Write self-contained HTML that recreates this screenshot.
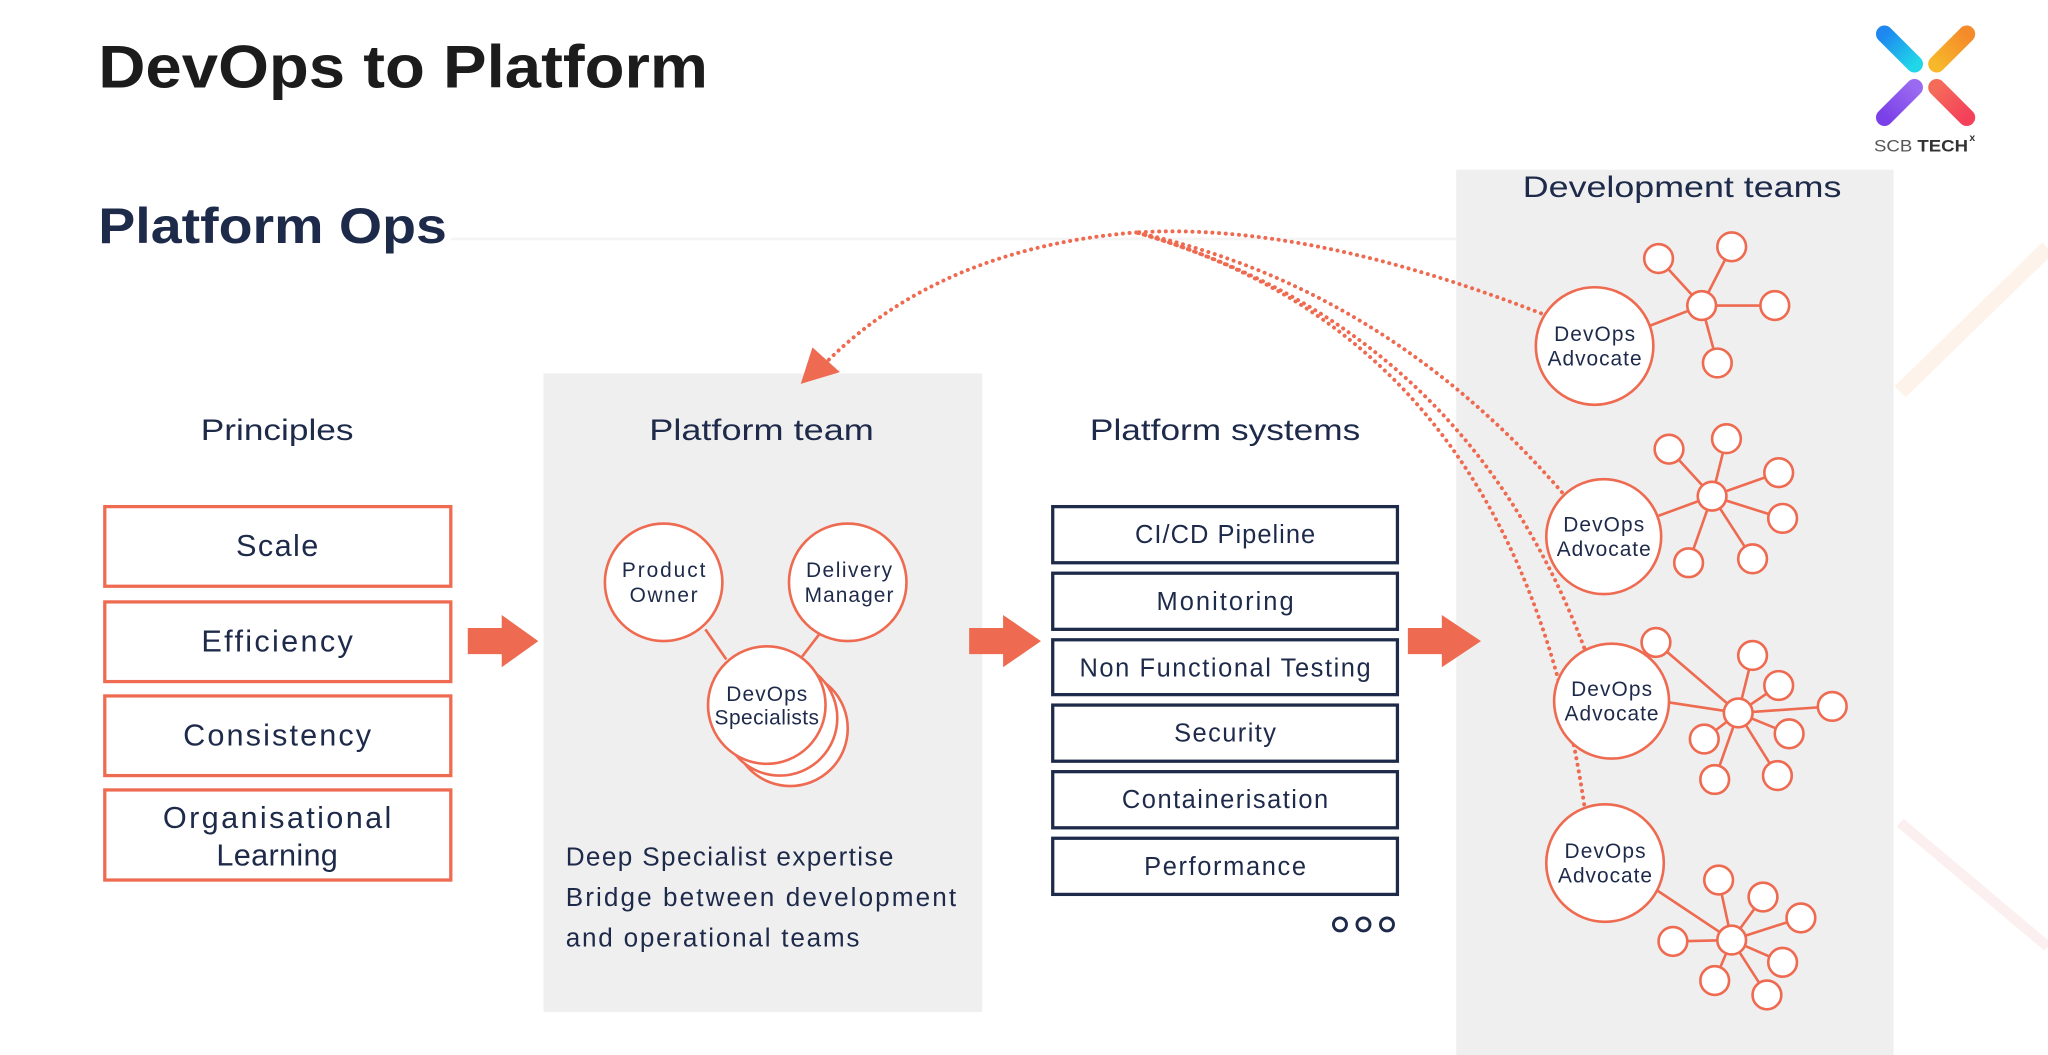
<!DOCTYPE html>
<html><head><meta charset="utf-8"><style>
html,body{margin:0;padding:0;background:#fff;width:2048px;height:1055px;overflow:hidden}
svg{display:block}
text{font-family:"Liberation Sans",sans-serif}
</style></head><body>
<svg width="2048" height="1055" viewBox="0 0 1568 808" xmlns="http://www.w3.org/2000/svg">
<defs>
<linearGradient id="g1" x1="0" y1="0" x2="1" y2="1"><stop offset="0" stop-color="#1e88f0"/><stop offset="1" stop-color="#20d6e8"/></linearGradient>
<linearGradient id="g2" x1="1" y1="0" x2="0" y2="1"><stop offset="0" stop-color="#f58a2a"/><stop offset="1" stop-color="#f6b72a"/></linearGradient>
<linearGradient id="g3" x1="1" y1="0" x2="0" y2="1"><stop offset="0" stop-color="#9a6af0"/><stop offset="1" stop-color="#7b40e8"/></linearGradient>
<linearGradient id="g4" x1="0" y1="0" x2="1" y2="1"><stop offset="0" stop-color="#f56b5a"/><stop offset="1" stop-color="#f4405a"/></linearGradient>
</defs>
<path d="M1455,300 L1568,190" stroke="#fdf3ea" stroke-width="12"/>
<path d="M1455,630 L1568,725" stroke="#fcefef" stroke-width="8"/>
<text x="75" y="67" font-size="46" font-weight="bold" fill="#1c1c1c" textLength="467" lengthAdjust="spacingAndGlyphs">DevOps to Platform</text>
<g stroke-linecap="round" stroke-width="13">
<line x1="1443" y1="26" x2="1466" y2="49" stroke="url(#g1)"/>
<line x1="1506" y1="26" x2="1483" y2="49" stroke="url(#g2)"/>
<line x1="1466" y1="67" x2="1443" y2="90" stroke="url(#g3)"/>
<line x1="1483" y1="67" x2="1506" y2="90" stroke="url(#g4)"/>
</g>
<text x="1435" y="116" font-size="13" fill="#555" textLength="72" lengthAdjust="spacingAndGlyphs">SCB <tspan font-weight="bold" fill="#333">TECH</tspan></text>
<text x="1508" y="108" font-size="8" font-weight="bold" fill="#333">x</text>
<text x="75" y="186" font-size="38" font-weight="bold" fill="#1e2a4a" textLength="267" lengthAdjust="spacingAndGlyphs">Platform Ops</text>
<line x1="345" y1="183" x2="1115" y2="183" stroke="#f4f4f4" stroke-width="2"/>
<rect x="1115" y="130" width="335" height="678" fill="#efefef"/>
<rect x="416" y="286" width="336" height="489" fill="#efefef"/>
<text x="1288" y="151" font-size="23" text-anchor="middle" fill="#1e2a4a" textLength="244" lengthAdjust="spacingAndGlyphs">Development teams</text>
<text x="212" y="337" font-size="23" text-anchor="middle" fill="#1e2a4a" textLength="117" lengthAdjust="spacingAndGlyphs">Principles</text>
<g fill="#fff" stroke="#ee6a50" stroke-width="2.5">
<rect x="80" y="388" width="265" height="61"/>
<rect x="80" y="461" width="265" height="61"/>
<rect x="80" y="533" width="265" height="61"/>
<rect x="80" y="605" width="265" height="69"/>
</g>
<g font-size="23.5" text-anchor="middle" fill="#1e2a4a" lengthAdjust="spacingAndGlyphs">
<text x="212" y="426" textLength="63">Scale</text>
<text x="212" y="499" textLength="116">Efficiency</text>
<text x="212" y="571" textLength="144">Consistency</text>
<text x="212" y="634" textLength="175">Organisational</text>
<text x="212" y="663" textLength="93">Learning</text>
</g>
<g fill="#ee6a50">
<path d="M358,481 H384 V471 L412,491 L384,511 V501 H358 Z"/>
<path d="M742,481 H768 V471 L797,491 L768,511 V501 H742 Z"/>
<path d="M1078,481 H1104 V471 L1134,491 L1104,511 V501 H1078 Z"/>
</g>
<text x="583" y="337" font-size="23" text-anchor="middle" fill="#1e2a4a" textLength="172" lengthAdjust="spacingAndGlyphs">Platform team</text>
<g stroke="#ee6a50" stroke-width="2" fill="#fff">
<line x1="540" y1="482" x2="556" y2="505"/>
<line x1="627" y1="486" x2="614" y2="503"/>
<circle cx="605" cy="558" r="44"/>
<circle cx="597" cy="550" r="44"/>
<circle cx="587" cy="540" r="45"/>
<circle cx="508" cy="446" r="45"/>
<circle cx="649" cy="446" r="45"/>
</g>
<g font-size="16" text-anchor="middle" fill="#1e2a4a" lengthAdjust="spacingAndGlyphs">
<text x="508" y="442" textLength="64">Product</text><text x="508" y="461" textLength="52">Owner</text>
<text x="650" y="442" textLength="66">Delivery</text><text x="650" y="461" textLength="68">Manager</text>
<text x="587" y="537" textLength="62">DevOps</text><text x="587" y="555" textLength="80">Specialists</text>
</g>
<g font-size="20" fill="#1e2a4a" lengthAdjust="spacingAndGlyphs">
<text x="433" y="663" textLength="251">Deep Specialist expertise</text>
<text x="433" y="694" textLength="299">Bridge between development</text>
<text x="433" y="725" textLength="225">and operational teams</text>
</g>
<text x="938" y="337" font-size="23" text-anchor="middle" fill="#1e2a4a" textLength="207" lengthAdjust="spacingAndGlyphs">Platform systems</text>
<g fill="#fff" stroke="#1e2a4a" stroke-width="2.5">
<rect x="806" y="388" width="264" height="43"/>
<rect x="806" y="439" width="264" height="43"/>
<rect x="806" y="490" width="264" height="42"/>
<rect x="806" y="540" width="264" height="43"/>
<rect x="806" y="591" width="264" height="43"/>
<rect x="806" y="642" width="264" height="43"/>
</g>
<g font-size="19.5" text-anchor="middle" fill="#1e2a4a" lengthAdjust="spacingAndGlyphs">
<text x="938" y="416" textLength="138">CI/CD Pipeline</text>
<text x="938" y="467" textLength="105">Monitoring</text>
<text x="938" y="518" textLength="223">Non Functional Testing</text>
<text x="938" y="568" textLength="78">Security</text>
<text x="938" y="619" textLength="158">Containerisation</text>
<text x="938" y="670" textLength="124">Performance</text>
</g>
<g fill="#fff" stroke="#1e2a4a" stroke-width="2.2">
<circle cx="1026" cy="708" r="5"/><circle cx="1044" cy="708" r="5"/><circle cx="1062" cy="708" r="5"/>
</g>
<g fill="none" stroke="#ee6a50" stroke-width="3" stroke-dasharray="0.1 5" stroke-linecap="round">
<path d="M1180,240 Q1000,170 870,178"/>
<path d="M1196,377 Q1060,220 870,178"/>
<path d="M1213,496 Q1120,250 870,178"/>
<path d="M1213,616 Q1160,260 870,178"/>
<path d="M870,178 Q720,190 632,278"/>
</g>
<path d="M613,294 L622,266 L643,285 Z" fill="#ee6a50"/>
<g stroke="#ee6a50" stroke-width="2" fill="#fff">
<path d="M1262,250 L1303,234 M1303,234 L1270,198 M1303,234 L1326,189 M1303,234 L1359,234 M1303,234 L1315,278"/>
<path d="M1270,395 L1311,380 M1311,380 L1278,344 M1311,380 L1322,336 M1311,380 L1362,362 M1311,380 L1365,397 M1311,380 L1342,428 M1311,380 L1293,431"/>
<path d="M1278,538 L1331,546 M1331,546 L1268,492 M1331,546 L1342,502 M1331,546 L1362,525 M1331,546 L1403,541 M1331,546 L1370,562 M1331,546 L1305,566 M1331,546 L1313,597 M1331,546 L1361,594"/>
<path d="M1269,682 L1326,720 M1326,720 L1316,674 M1326,720 L1350,687 M1326,720 L1379,703 M1326,720 L1281,721 M1326,720 L1365,737 M1326,720 L1313,751 M1326,720 L1353,762"/>
<circle cx="1221" cy="265" r="45"/><circle cx="1228" cy="411" r="44"/><circle cx="1234" cy="537" r="44"/><circle cx="1229" cy="661" r="45"/>
<circle cx="1303" cy="234" r="11"/><circle cx="1270" cy="198" r="11"/><circle cx="1326" cy="189" r="11"/><circle cx="1359" cy="234" r="11"/><circle cx="1315" cy="278" r="11"/>
<circle cx="1311" cy="380" r="11"/><circle cx="1278" cy="344" r="11"/><circle cx="1322" cy="336" r="11"/><circle cx="1362" cy="362" r="11"/><circle cx="1365" cy="397" r="11"/><circle cx="1342" cy="428" r="11"/><circle cx="1293" cy="431" r="11"/>
<circle cx="1331" cy="546" r="11"/><circle cx="1268" cy="492" r="11"/><circle cx="1342" cy="502" r="11"/><circle cx="1362" cy="525" r="11"/><circle cx="1403" cy="541" r="11"/><circle cx="1370" cy="562" r="11"/><circle cx="1305" cy="566" r="11"/><circle cx="1313" cy="597" r="11"/><circle cx="1361" cy="594" r="11"/>
<circle cx="1326" cy="720" r="11"/><circle cx="1316" cy="674" r="11"/><circle cx="1350" cy="687" r="11"/><circle cx="1379" cy="703" r="11"/><circle cx="1281" cy="721" r="11"/><circle cx="1365" cy="737" r="11"/><circle cx="1313" cy="751" r="11"/><circle cx="1353" cy="762" r="11"/>
</g>
<g font-size="16" text-anchor="middle" fill="#1e2a4a" lengthAdjust="spacingAndGlyphs">
<text x="1221" y="261" textLength="62">DevOps</text><text x="1221" y="280" textLength="72">Advocate</text>
<text x="1228" y="407" textLength="62">DevOps</text><text x="1228" y="426" textLength="72">Advocate</text>
<text x="1234" y="533" textLength="62">DevOps</text><text x="1234" y="552" textLength="72">Advocate</text>
<text x="1229" y="657" textLength="62">DevOps</text><text x="1229" y="676" textLength="72">Advocate</text>
</g>
</svg>
</body></html>
